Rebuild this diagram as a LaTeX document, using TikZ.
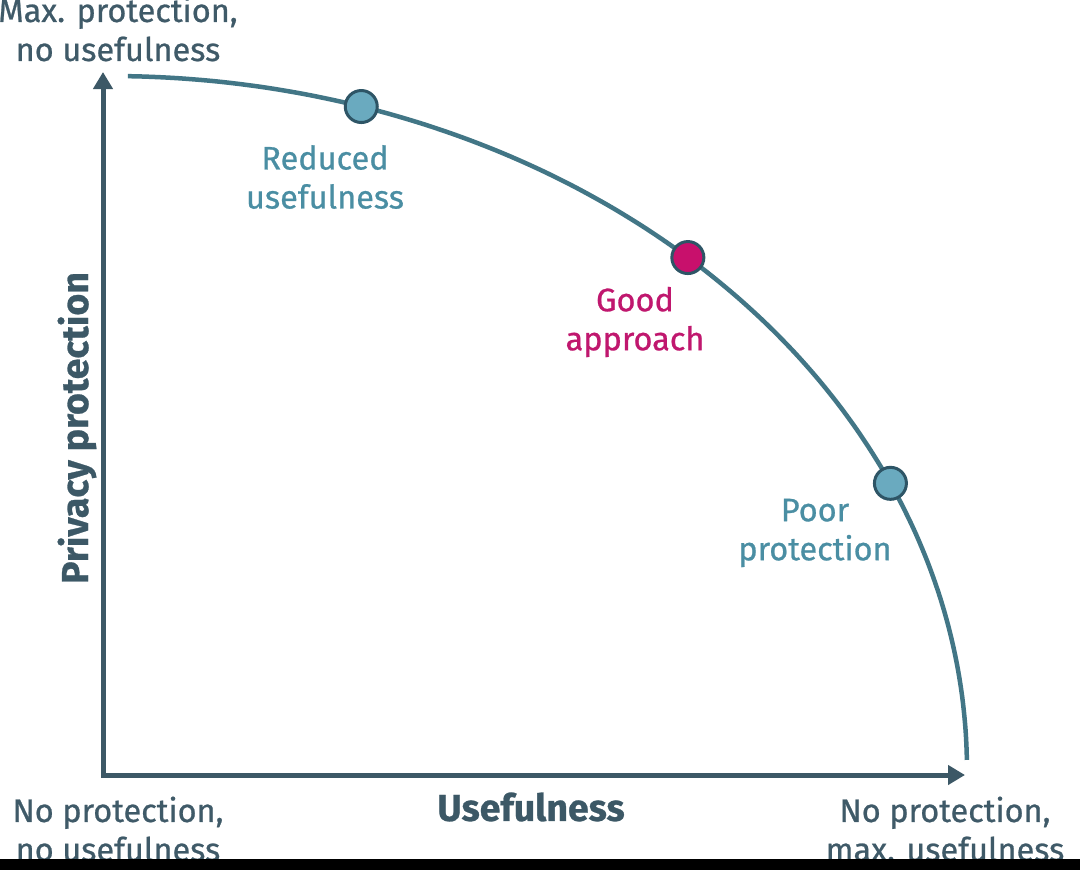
\documentclass[tikz,border=0pt]{standalone}
\usepackage{fontspec}
\setmainfont{Fira Sans}[FakeBold=0.7]
\usetikzlibrary{arrows.meta}
\definecolor{axiscol}{HTML}{3C5866}
\definecolor{curvecol}{HTML}{427686}
\definecolor{lbltext}{HTML}{3F5A68}
\definecolor{tealtext}{HTML}{4A8EA3}
\definecolor{magtext}{HTML}{C0176E}
\definecolor{dotfill}{HTML}{6AAABF}
\definecolor{dotedge}{HTML}{2E5566}
\definecolor{magfill}{HTML}{C8106C}
\tikzset{
  lbl/.style={font=\fontsize{32.5}{39}\selectfont, align=center, text=lbltext, inner sep=0pt},
  axlbl/.style={font=\fontsize{37.5}{42}\selectfont\bfseries, text=axiscol, inner sep=0pt},
  teallbl/.style={lbl, text=tealtext},
  maglbl/.style={lbl, text=magtext},
  dot/.style={circle, minimum size=32pt, inner sep=0pt, line width=3pt, draw=dotedge, fill=dotfill},
  magdot/.style={dot, fill=magfill},
  axis/.style={line width=5pt, draw=axiscol, {Triangle[width=19pt,length=17pt]}-{Triangle[width=19pt,length=17pt]}},
  curve/.style={line width=4.5pt, draw=curvecol}
}
\begin{document}
\begin{tikzpicture}[x=1pt,y=-1pt]
\useasboundingbox (0,0) rectangle (1080,870);
\clip (0,0) rectangle (1080,870);
\fill[white] (0,0) rectangle (1080,870);
% axes
\coordinate (ytip) at (103,72);
\coordinate (origin) at (103,775);
\coordinate (xtip) at (965,775);
\draw[axis] (ytip) -- (origin) -- (xtip);
% curve
\draw[curve] plot[domain=0.83:88.8, samples=120, smooth] ({110+857*cos(\x)},{770-694*sin(\x)});
% markers
\node[dot] (reduced) at ({110+857*cos(72.95)},{770-694*sin(72.95)}) {};
\node[magdot] (good) at ({110+857*cos(47.6)},{770-694*sin(47.6)}) {};
\node[dot] (poor) at ({110+857*cos(24.4)},{770-694*sin(24.4)}) {};
% labels
\node[lbl] (maxprot) at (118,29) {Max. protection,\\no usefulness};
\node[teallbl] (redlbl) at (325,177) {Reduced\\usefulness};
\node[maglbl] (goodlbl) at (635,322) {Good\\approach};
\node[teallbl] (poorlbl) at (815,533) {Poor\\protection};
\node[axlbl, rotate=90] (ylbl) at (77,428) {Privacy protection};
\node[axlbl] (xlbl) at (531,807) {Usefulness};
\node[lbl] (noprot) at (118,829) {No protection,\\no usefulness};
\node[lbl] (maxuse) at (945,829) {No protection,\\max. usefulness};
% bottom bar
\fill[black] (0,859) rectangle (1080,870);
\end{tikzpicture}
\end{document}
